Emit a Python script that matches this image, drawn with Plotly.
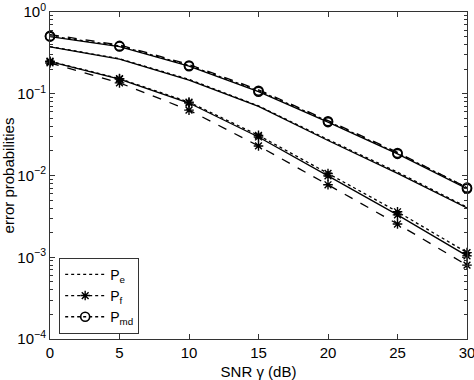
import plotly.graph_objects as go

snr_db = [0, 5, 10, 15, 20, 25, 30]

pf_dot = [0.250, 0.153, 0.079, 0.031, 0.0106, 0.0036, 0.00114]
pf_sol = [0.247, 0.151, 0.077, 0.0296, 0.0099, 0.0033, 0.00104]
pf_dash = [0.238, 0.136, 0.063, 0.023, 0.0077, 0.00255, 0.0008]

pmd_dot = [0.51, 0.385, 0.222, 0.109, 0.046, 0.0188, 0.0071]
pmd_sol = [0.50, 0.378, 0.217, 0.106, 0.045, 0.0184, 0.0069]
pmd_dash = [0.53, 0.395, 0.228, 0.112, 0.047, 0.0192, 0.0071]

pe_dot = [0.378, 0.268, 0.150, 0.071, 0.0275, 0.0110, 0.0041]
pe_sol = [0.374, 0.265, 0.147, 0.070, 0.0268, 0.0106, 0.0040]

y_tickvals = [1e-4, 1e-3, 1e-2, 1e-1, 1e0]
y_ticktext = ["10<sup>−4</sup>", "10<sup>−3</sup>", "10<sup>−2</sup>", "10<sup>−1</sup>", "10<sup>0</sup>"]
x_tickvals = [0, 5, 10, 15, 20, 25, 30]

FONT = "Liberation Sans, Arial, Helvetica, sans-serif"
LW = 1.3
fig = go.Figure()

def add(y, dash, marker=None, name=None, show=False):
    m = dict(symbol="circle", size=1, color="black")
    mode = "lines"
    if marker == "star":
        mode = "lines+markers"
        m = dict(symbol="asterisk-open", size=8, color="black", line=dict(width=1.4, color="black"))
    elif marker == "circle":
        mode = "lines+markers"
        m = dict(symbol="circle-open", size=9, color="black", line=dict(width=1.6, color="black"))
    fig.add_trace(go.Scatter(x=snr_db, y=y, mode=mode, name=name, showlegend=show,
                             line=dict(color="black", width=LW, dash=dash), marker=m,
                             cliponaxis=False))

add(pe_dot, "dot", None, "P<sub>e</sub>", True)
add(pf_dot, "dot", "star", "P<sub>f</sub>", True)
add(pmd_dot, "dot", "circle", "P<sub>md</sub>", True)
add(pe_sol, "solid")
add(pf_sol, "solid", "star")
add(pmd_sol, "solid", "circle")
add(pf_dash, "dash", "star")
add(pmd_dash, "dash")

minor_vals = [k * 10 ** e for e in range(-4, 0) for k in range(2, 10)]

fig.update_layout(
    width=474, height=380,
    margin=dict(l=50, r=7, t=12, b=41),
    paper_bgcolor="white", plot_bgcolor="white",
    font=dict(family=FONT, size=15, color="black"),
    legend=dict(x=0.022, y=0.016, xanchor="left", yanchor="bottom",
                bordercolor="#333", borderwidth=1, bgcolor="white",
                font=dict(size=14), tracegroupgap=0, itemwidth=40),
    xaxis=dict(range=[0, 30], tickvals=x_tickvals, ticks="inside", ticklen=5,
               showline=True, linecolor="#333", linewidth=1, mirror="allticks",
               tickcolor="#333", showgrid=False, zeroline=False, automargin=False,
               tickfont=dict(size=15), ticklabeloverflow="allow",
               title=dict(text="SNR γ (dB)", font=dict(size=15), standoff=6)),
    yaxis=dict(type="log", range=[-4, 0], tickvals=y_tickvals, ticktext=y_ticktext,
               ticks="inside", ticklen=5, showline=True, linecolor="#333", linewidth=1,
               mirror="allticks", tickcolor="#333", showgrid=False, zeroline=False,
               automargin=False, tickfont=dict(size=15),
               minor=dict(tickvals=minor_vals, ticks="inside", ticklen=3, tickcolor="#333"),
               title=dict(text="error probabilities", font=dict(size=15), standoff=4)),
)

fig.write_html("out.html", config={"displayModeBar": False},
               post_script="document.body.style.margin='0';document.body.style.overflow='hidden';")
